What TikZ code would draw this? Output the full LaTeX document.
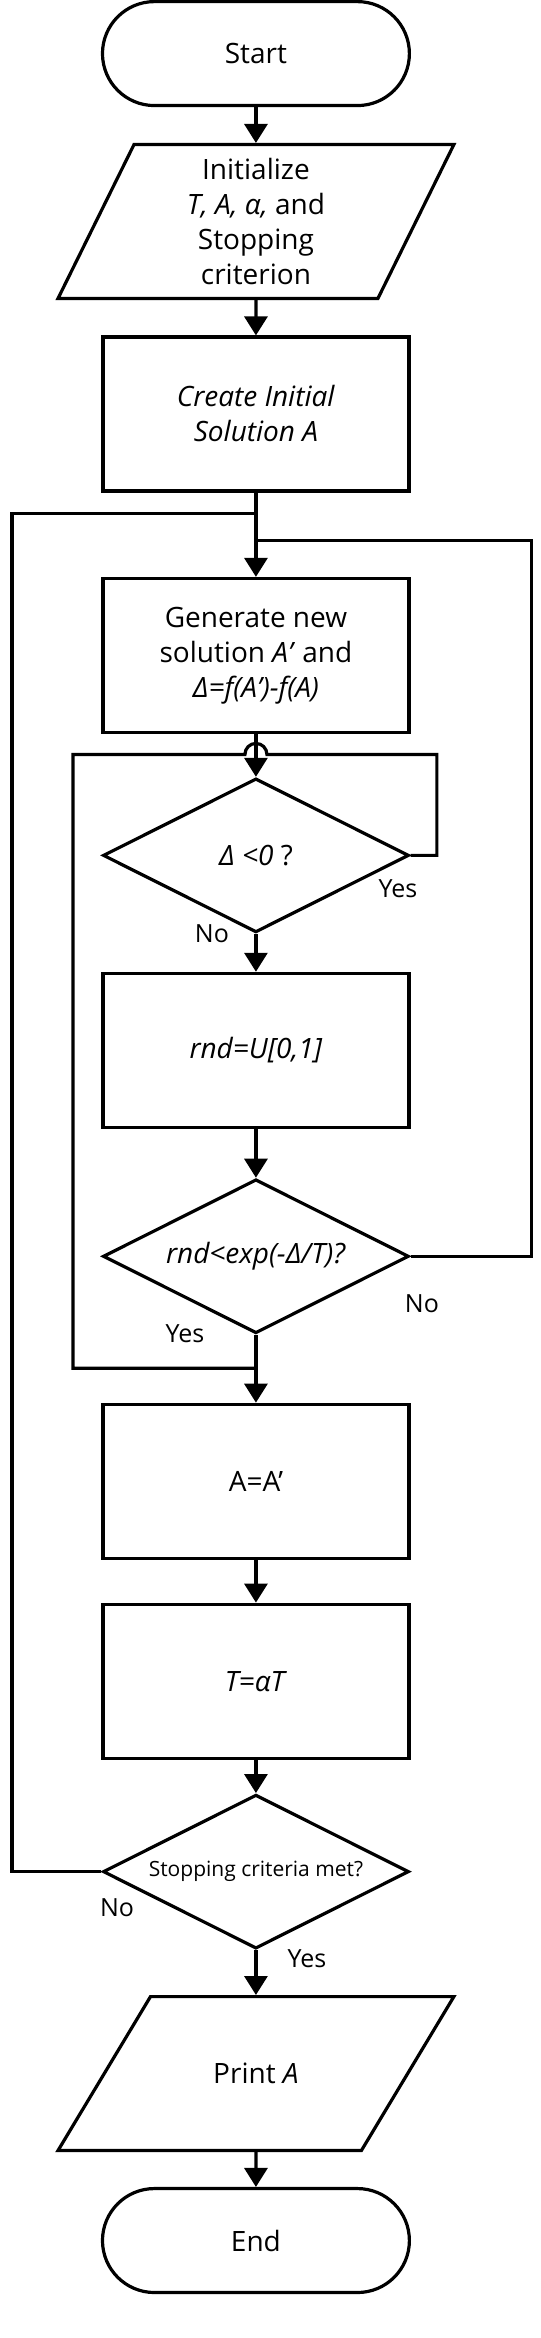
\documentclass[tikz,border=0pt]{standalone}
\usepackage{fontspec}
\setmainfont{Open Sans}
\usetikzlibrary{shapes.geometric, arrows.meta}

\begin{document}
\begin{tikzpicture}[
        x=0.5pt, y=0.5pt, line width=1.6pt,
        term/.style={rectangle, draw, rounded corners=26pt, minimum width=153.5pt, minimum height=52pt, font=\fontsize{14}{17.5}\selectfont},
        proc/.style={rectangle, draw, minimum width=153pt, minimum height=77pt, align=center, font=\fontsize{14}{17.5}\selectfont},
        io/.style={trapezium, draw, trapezium left angle=59, trapezium right angle=121, trapezium stretches body, minimum width=198pt, minimum height=77pt, inner sep=0pt, align=center, font=\fontsize{14}{17.5}\selectfont},
        decision/.style={diamond, draw, aspect=2, minimum width=153pt, minimum height=77pt, inner sep=0pt, align=center, font=\fontsize{14}{17.5}\selectfont},
        arr/.style={-{Triangle[width=11.5pt, length=9.5pt]}},
        lbl/.style={font=\fontsize{12.5}{15}\selectfont}
    ]
    \path[fill=white] (0,0) rectangle (541,-2338);

    % Define steps
    \node[term] (start) at (256, -53) {Start};
    \node[io] (init) at (256, -221) {Initialize\\\textit{T, A, α,} and\\Stopping\\criterion};
    \node[proc] (create) at (256, -413.5) {\textit{Create Initial}\\\textit{Solution A}};
    \node[proc] (gen) at (256, -655) {Generate new\\solution \textit{A’} and\\\textit{Δ=f(A’)-f(A)}};
    \node[decision] (delta) at (256, -855) {\textit{Δ <0} ?};
    \node[proc] (rnd) at (256, -1050) {\textit{rnd=U[0,1]}};
    \node[decision] (accept) at (256, -1256) {\textit{rnd<exp(-Δ/T)?}};
    \node[proc] (update) at (256, -1481) {A=A’};
    \node[proc] (cool) at (256, -1681) {\textit{T=αT}};
    \node[decision, font=\fontsize{10.5}{12.5}\selectfont] (stop) at (256, -1871.5) {Stopping criteria met?};
    \node[io, text height=43.5pt, text depth=33.5pt] (print) at (256, -2073.5) {Print \textit{A}};
    \node[term] (end) at (256, -2240.5) {End};

    % Labels
    \node[lbl] (deltayes) at (398, -888) {Yes};
    \node[lbl] (deltano) at (212, -933) {No};
    \node[lbl] (acceptno) at (422, -1303) {No};
    \node[lbl] (acceptyes) at (185, -1333) {Yes};
    \node[lbl] (stopno) at (117, -1908) {No};
    \node[lbl] (stopyes) at (307, -1959) {Yes};

    % Loop corners
    \coordinate (joinouter) at (256, -513);
    \coordinate (cornerleft) at (12, -513);
    \coordinate (joinright) at (256, -540);
    \coordinate (cornerright) at (532, -540);
    \coordinate (hopright) at (437, -754);
    \coordinate (hopstart) at (267, -754);
    \coordinate (hopleft) at (73, -754);
    \coordinate (joininner) at (256, -1368);

    % Main flow
    \draw[arr] (start) -- (init);
    \draw[arr] (init) -- (create);
    \draw[arr] (create) -- (gen);
    \draw[arr] (gen) -- (delta);
    \draw[arr] (delta) -- (rnd);
    \draw[arr] (rnd) -- (accept);
    \draw[arr] (accept) -- (update);
    \draw[arr] (update) -- (cool);
    \draw[arr] (cool) -- (stop);
    \draw[arr] (stop) -- (print);
    \draw[arr] (print) -- (end);

    % Loops
    \draw (stop.west) -| (cornerleft) -- (joinouter);
    \draw (accept.east) -| (cornerright) -- (joinright);
    \draw (delta.east) -| (hopright) -- (hopstart) arc[start angle=0, end angle=180, radius=11] -- (hopleft) |- (joininner);

\end{tikzpicture}
\end{document}
